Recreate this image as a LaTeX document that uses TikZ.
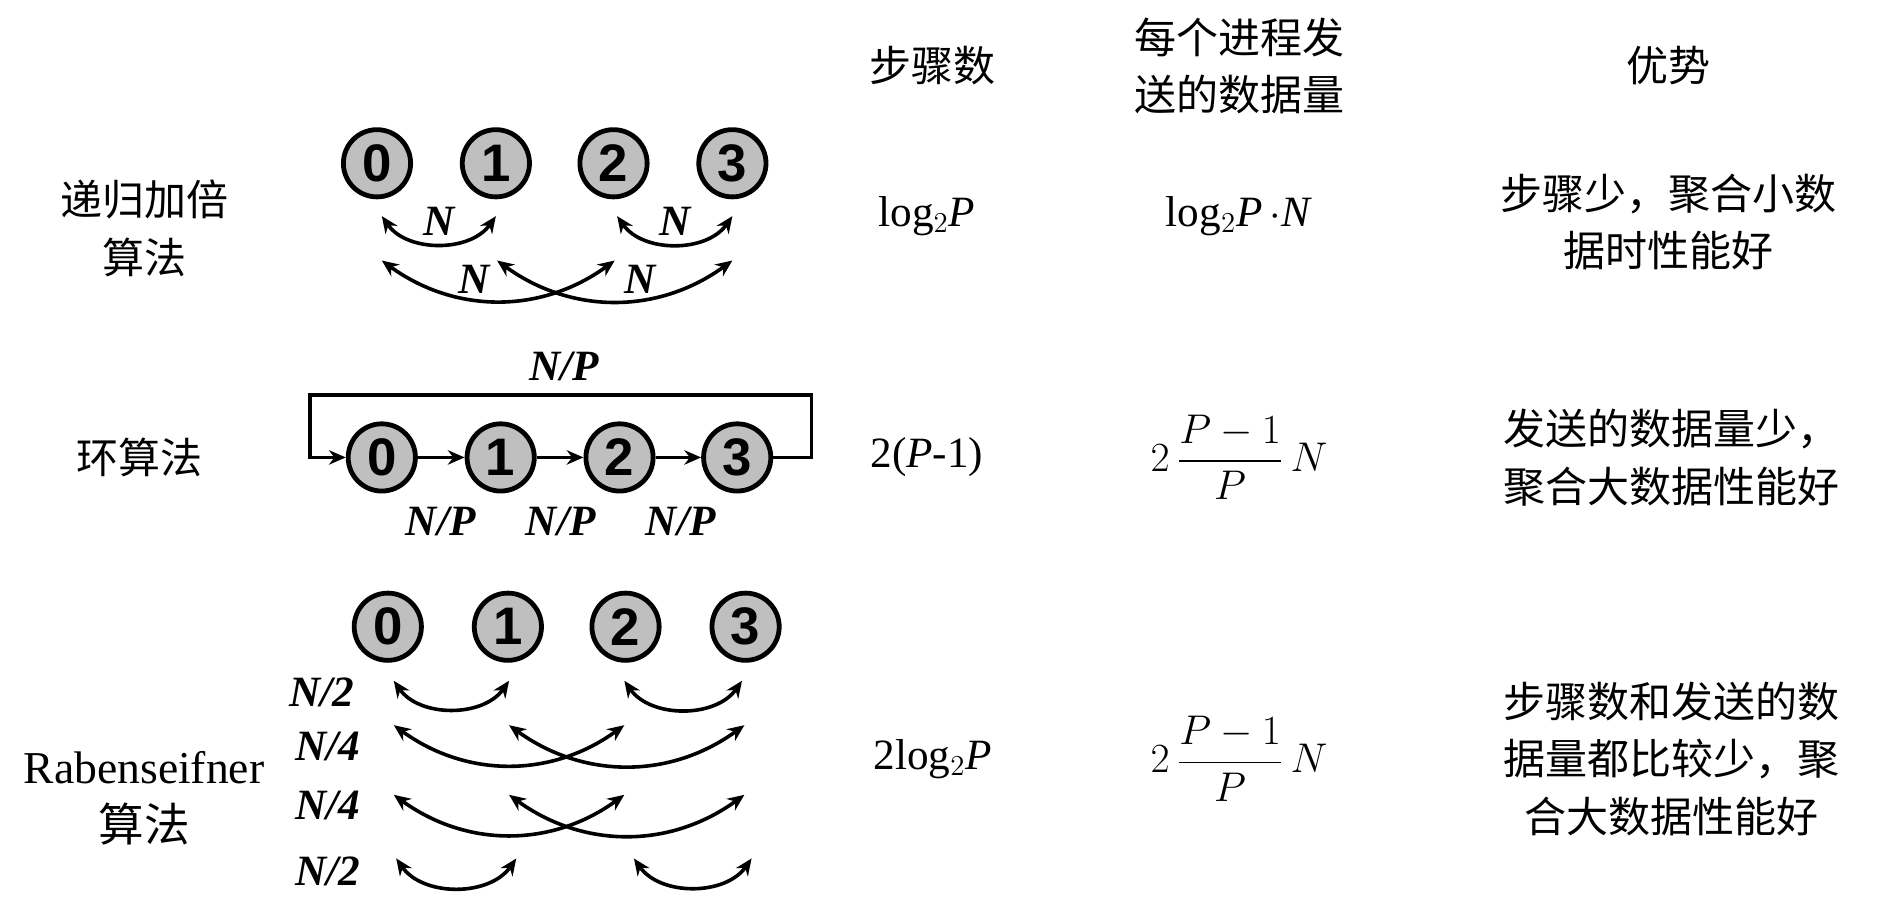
\documentclass[tikz,border=0pt]{standalone}
\usepackage{fontspec}
\usepackage{amsmath}
\setmainfont{Liberation Serif}
\newfontfamily\cjk{Noto Sans CJK SC}
\newfontfamily\dig{Liberation Sans}
\usetikzlibrary{calc,arrows.meta}
\begin{document}
\begin{tikzpicture}[x=0.5pt,y=-0.5pt,
  pn/.style={circle,draw,line width=2pt,fill=black!25,minimum size=28pt,inner sep=0pt,font=\dig\fontsize{22}{24}\selectfont\bfseries},
  arc/.style={{Stealth[length=7pt,width=6pt]}-{Stealth[length=7pt,width=6pt]},line width=1.5pt},
  lab/.style={font=\fontsize{18}{20}\selectfont\bfseries\itshape},
  txt/.style={font=\cjk\fontsize{17.5}{24}\selectfont,align=center},
  mth/.style={font=\fontsize{18}{22}\selectfont}]
\useasboundingbox (0,0) rectangle (1565,748);
% headers
\node[txt] (h1) at (777,55) {步骤数};
\node[txt] (h2) at (1032,55) {每个进程发\\送的数据量};
\node[txt] (h3) at (1390,55) {优势};
% left labels
\node[txt] (l1) at (120,190) {递归加倍\\算法};
\node[txt] (l2) at (116,381) {环算法};
\node[txt,font=\fontsize{19}{24}\selectfont] (l3) at (120,665) {Rabenseifner\\\cjk 算法};
% recursive doubling
\foreach \i/\x in {0/314,1/413,2/511,3/610} \node[pn] (a\i) at (\x,136) {\i};
\draw[arc] ($(a0.south)+(4,14)$) to[bend right=55] ($(a1.south)+(0,14)$);
\draw[arc] ($(a2.south)+(3,14)$) to[bend right=55] ($(a3.south)+(0,14)$);
\draw[arc] ($(a0.south)+(4,51)$) to[bend right=36] ($(a2.south)+(1,51)$);
\draw[arc] ($(a1.south)+(1,51)$) to[bend right=36] ($(a3.south)+(0,51)$);
\node[lab] (n1) at (366,184) {N};
\node[lab] (n2) at (562,184) {N};
\node[lab] (n3) at (395,233) {N};
\node[lab] (n4) at (533,233) {N};
% ring
\foreach \i/\x in {0/318,1/417,2/516,3/614} \node[pn] (b\i) at (\x,381) {\i};
\foreach \i/\j in {0/1,1/2,2/3} \draw[-{Stealth[length=7pt,width=6pt]},line width=1.5pt] (b\i) -- (b\j);
\coordinate (c1) at (676,381);
\coordinate (c2) at (676,329);
\coordinate (c3) at (258,329);
\coordinate (c4) at (258,381);
\draw[-{Stealth[length=7pt,width=6pt]},line width=1.5pt] (b3.east) -- (c1) -- (c2) -- (c3) -- (c4) -- (b0.west);
\node[lab] (m0) at (470,305) {N/P};
\node[lab] (m1) at (367,434) {N/P};
\node[lab] (m2) at (467,434) {N/P};
\node[lab] (m3) at (567,434) {N/P};
% Rabenseifner
\foreach \i/\x in {0/323,1/423,2/521,3/621} \node[pn] (r\i) at (\x,522) {\i};
\draw[arc] ($(r0.south)+(5,15)$) to[bend right=55] ($(r1.south)+(1,15)$);
\draw[arc] ($(r2.south)+(-1,15)$) to[bend right=55] ($(r3.south)+(-3,15)$);
\draw[arc] ($(r0.south)+(5,52)$) to[bend right=36] ($(r2.south)+(-1,52)$);
\draw[arc] ($(r1.south)+(1,52)$) to[bend right=36] ($(r3.south)+(-1,52)$);
\draw[arc] ($(r0.south)+(5,110)$) to[bend right=36] ($(r2.south)+(-1,110)$);
\draw[arc] ($(r1.south)+(1,110)$) to[bend right=36] ($(r3.south)+(-1,110)$);
\draw[arc] ($(r0.south)+(7,163)$) to[bend right=55] ($(r1.south)+(7,163)$);
\draw[arc] ($(r2.south)+(7,163)$) to[bend right=55] ($(r3.south)+(5,163)$);
\node[lab] (k1) at (268,577) {N/2};
\node[lab] (k2) at (273,622) {N/4};
\node[lab] (k3) at (273,671) {N/4};
\node[lab] (k4) at (273,726) {N/2};
% column 2
\node[mth] (s1) at (772,180) {log$_2$\textit{P}};
\node[mth] (s2) at (772,381) {2(\textit{P}-1)};
\node[mth] (s3) at (777,632) {2log$_2$\textit{P}};
% column 3
\node[mth] (d1) at (1032,180) {log$_2$\textit{P}\,$\cdot$\textit{N}};
\node[mth] (d2) at (1032,381) {$2\,\dfrac{P-1}{P}\,N$};
\node[mth] (d3) at (1032,632) {$2\,\dfrac{P-1}{P}\,N$};
% column 4
\node[txt] (e1) at (1390,185) {步骤少，聚合小数\\据时性能好};
\node[txt] (e2) at (1392,381) {发送的数据量少，\\聚合大数据性能好};
\node[txt] (e3) at (1392,632) {步骤数和发送的数\\据量都比较少，聚\\合大数据性能好};
\end{tikzpicture}
\end{document}
